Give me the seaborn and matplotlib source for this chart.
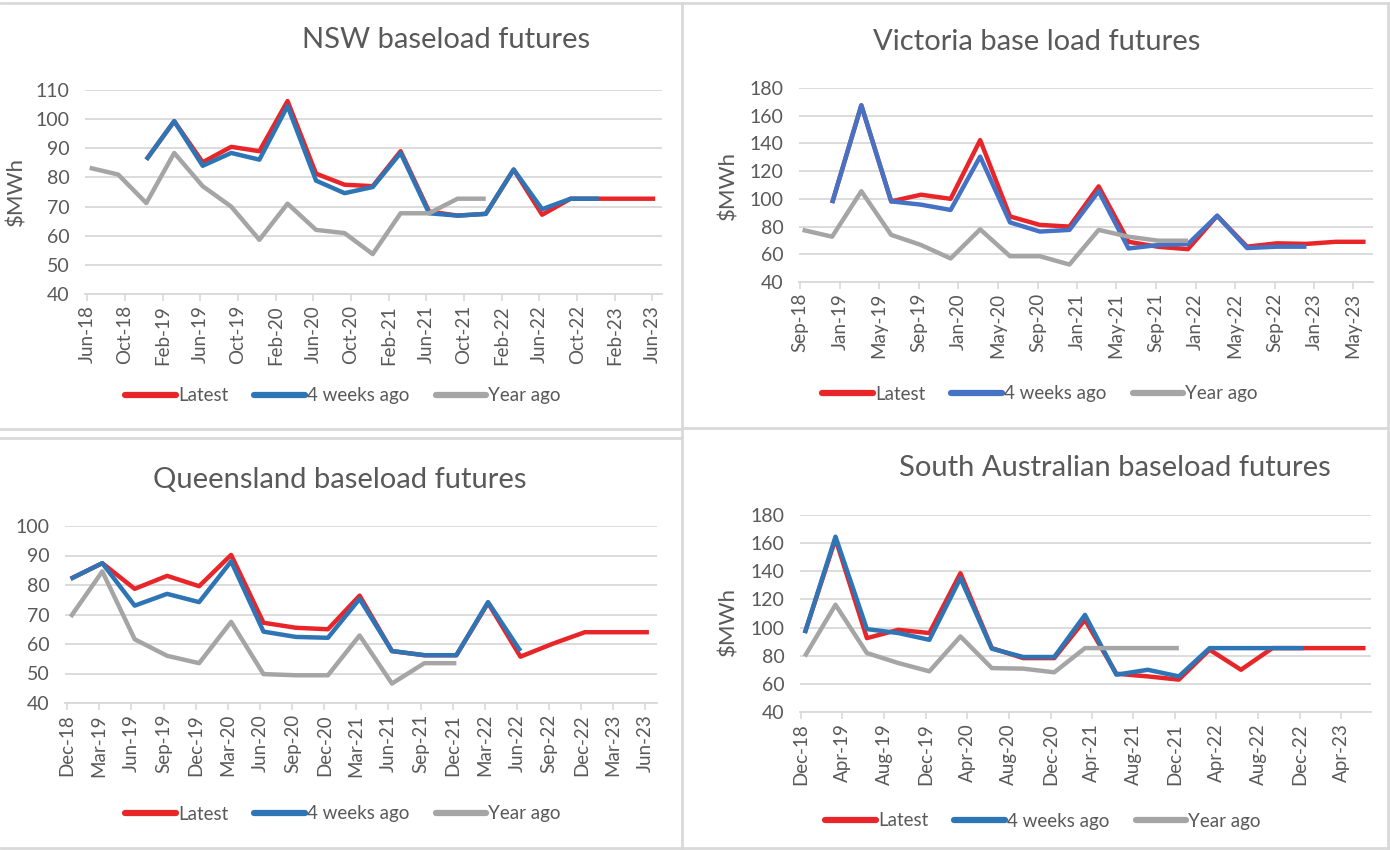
import pandas as pd
import matplotlib
matplotlib.use("Agg")
import matplotlib.pyplot as plt
import matplotlib.dates as mdates
from matplotlib.lines import Line2D
import seaborn as sns

# ---- data (quarterly baseload futures, $/MWh) ----
SERIES = ["Latest", "4 weeks ago", "Year ago"]

nsw_dates = pd.date_range("2018-06-01", "2023-06-01", freq="3MS") + pd.Timedelta(days=9)
nsw_latest = [86.1, 99.3, 85.2, 90.5, 89.0, 106.2, 81.3, 77.5, 77.0, 89.0,
              68.3, 66.9, 67.5, 82.7, 67.2, 72.7, 72.7, 72.7, 72.7]
nsw_4wk = [86.1, 99.3, 84.0, 88.4, 86.1, 104.5, 78.9, 74.6, 76.7, 88.4,
           67.7, 66.9, 67.5, 82.7, 69.1, 72.7, 72.7]
nsw_yago = [83.3, 81.0, 71.2, 88.4, 77.0, 70.0, 58.6, 71.0, 62.0, 60.9,
            53.7, 67.7, 67.7, 72.7, 72.7]

vic_dates = pd.date_range("2018-09-01", "2023-06-01", freq="3MS") + pd.Timedelta(days=7)
vic_latest = [97.0, 167.5, 98.2, 103.0, 100.0, 142.4, 87.3, 81.2, 80.0, 109.0,
              69.0, 65.4, 63.7, 87.8, 65.5, 67.9, 67.5, 69.0, 69.0]
vic_4wk = [97.0, 167.5, 98.2, 95.8, 92.0, 130.5, 83.0, 76.4, 77.6, 105.5,
           64.2, 66.7, 67.4, 87.8, 64.5, 65.5, 65.5]
vic_yago = [77.6, 72.7, 105.5, 74.0, 66.7, 57.0, 78.0, 58.6, 58.6, 52.6,
            77.6, 72.7, 69.8, 69.8]

qld_dates = pd.date_range("2018-12-01", "2023-06-01", freq="3MS") + pd.Timedelta(days=10)
qld_latest = [82.1, 87.4, 78.7, 83.1, 79.6, 90.2, 67.2, 65.5, 65.0, 76.4,
              57.6, 56.2, 56.2, 73.9, 55.7, 60.1, 64.0, 64.0, 64.0]
qld_4wk = [82.1, 87.4, 73.0, 77.0, 74.2, 88.0, 64.2, 62.4, 62.1, 75.3,
           57.6, 56.2, 56.2, 74.2, 57.6]
qld_yago = [69.2, 84.6, 61.6, 56.0, 53.5, 67.5, 49.8, 49.4, 49.4, 62.9,
            46.6, 53.5, 53.5]

sa_dates = pd.date_range("2018-12-01", "2023-06-01", freq="3MS") + pd.Timedelta(days=11)
sa_latest = [96.1, 163.0, 92.5, 98.4, 96.1, 138.6, 85.4, 78.3, 78.3, 105.5,
             67.2, 65.3, 63.0, 84.3, 70.0, 85.4, 85.4, 85.4, 85.4]
sa_4wk = [96.1, 164.6, 98.9, 96.1, 91.3, 135.1, 85.0, 79.1, 79.1, 109.0,
          66.5, 70.0, 65.3, 85.4, 85.4, 85.4, 85.4]
sa_yago = [79.5, 116.2, 81.9, 74.8, 68.9, 93.7, 71.2, 70.8, 68.2, 85.4,
           85.4, 85.4, 85.4]

W, H = 1390, 850
GRID = "#D9D9D9"
TXT = "#595959"


def fx(x):
    return x / W


def fy(y):
    return 1 - y / H


def long_frame(dates, latest, wk4, yago, start_latest, start_4wk):
    rows = []
    for name, vals, start in [("Latest", latest, start_latest),
                              ("4 weeks ago", wk4, start_4wk),
                              ("Year ago", yago, 0)]:
        for i, v in enumerate(vals):
            rows.append({"date": dates[start + i], "value": v, "series": name})
    return pd.DataFrame(rows)


sns.set_theme(style="white")
plt.rcParams["font.family"] = ["Lato", "DejaVu Sans"]

fig = plt.figure(figsize=(13.9, 8.5), dpi=100)

panels = [
    dict(title="NSW baseload futures", tpos=(446, 40),
         df=long_frame(nsw_dates, nsw_latest, nsw_4wk, nsw_yago, 2, 2),
         box=(85, 90, 662, 294), ylim=(40, 110), ystep=10, months=(2, 6, 10),
         xlim=("2018-05-26", "2023-07-02"), ylab=(16, 192), leg=(343, 396), blue="#2E75B6"),
    dict(title="Victoria base load futures", tpos=(1037, 42),
         df=long_frame(vic_dates, vic_latest, vic_4wk, vic_yago, 1, 1),
         box=(799, 88, 1373, 282), ylim=(40, 180), ystep=20, months=(1, 5, 9),
         xlim=("2018-08-28", "2023-07-01"), ylab=(728, 185), leg=(1040, 394), blue="#4472C4"),
    dict(title="Queensland baseload futures", tpos=(340, 480),
         df=long_frame(qld_dates, qld_latest, qld_4wk, qld_yago, 0, 0),
         box=(65, 526, 657, 703), ylim=(40, 100), ystep=10, months=(3, 6, 9, 12),
         xlim=("2018-11-25", "2023-07-04"), ylab=None, leg=(343, 814), blue="#2E75B6"),
    dict(title="South Australian baseload futures", tpos=(1115, 468),
         df=long_frame(sa_dates, sa_latest, sa_4wk, sa_yago, 0, 0),
         box=(800, 515, 1371, 712), ylim=(40, 180), ystep=20, months=(4, 8, 12),
         xlim=("2018-11-28", "2023-06-28"), ylab=(728, 622), leg=(1043, 821), blue="#2E75B6"),
]

for p in panels:
    x0, y0, x1, y1 = p["box"]
    ax = fig.add_axes([fx(x0), fy(y1), (x1 - x0) / W, (y1 - y0) / H])
    palette = {"Latest": "#E8262A", "4 weeks ago": p["blue"], "Year ago": "#A5A5A5"}
    sns.lineplot(data=p["df"], x="date", y="value", hue="series", hue_order=SERIES,
                 palette=palette, linewidth=3.2, estimator=None, legend=False, ax=ax,
                 solid_joinstyle="round", solid_capstyle="butt")
    ax.set_ylim(*p["ylim"])
    ax.set_xlim(pd.Timestamp(p["xlim"][0]), pd.Timestamp(p["xlim"][1]))
    ax.set_yticks(range(p["ylim"][0], p["ylim"][1] + 1, p["ystep"]))
    ax.xaxis.set_major_locator(mdates.MonthLocator(bymonth=p["months"], bymonthday=1))
    ax.xaxis.set_major_formatter(mdates.DateFormatter("%b-%y"))
    ax.grid(axis="y", color=GRID, linewidth=1.3)
    ax.set_axisbelow(True)
    for s in ["top", "right", "left"]:
        ax.spines[s].set_visible(False)
    ax.spines["bottom"].set_color(GRID)
    ax.spines["bottom"].set_linewidth(1.3)
    ax.tick_params(axis="x", rotation=90, labelsize=13.5, colors=TXT, length=5,
                   width=1.2, color=GRID, pad=3, bottom=True)
    ax.tick_params(axis="y", labelsize=14, colors=TXT, length=0, pad=11)
    ax.set_xlabel("")
    ax.set_ylabel("")
    ax.set_facecolor("none")

    fig.text(fx(p["tpos"][0]), fy(p["tpos"][1]), p["title"], ha="center", va="center",
             fontsize=21, color=TXT)
    if p["ylab"]:
        fig.text(fx(p["ylab"][0]), fy(p["ylab"][1]), "$MWh", ha="center", va="center",
                 rotation=90, fontsize=16, color=TXT)
    handles = [Line2D([], [], color=palette[s], linewidth=4.5) for s in SERIES]
    fig.legend(handles, SERIES, loc="center", bbox_to_anchor=(fx(p["leg"][0]), fy(p["leg"][1])),
               ncol=3, frameon=False, fontsize=13.5, handlelength=2.7, handletextpad=0.1,
               columnspacing=1.4, labelcolor=TXT)

# panel frames (screenshot borders)
frame_kw = dict(color=GRID, linewidth=2, transform=fig.transFigure)
fig.add_artist(Line2D([0, 1], [fy(3), fy(3)], **frame_kw))
fig.add_artist(Line2D([fx(682), fx(682)], [0, fy(3)], **frame_kw))
fig.add_artist(Line2D([0, fx(682)], [fy(429), fy(429)], **frame_kw))
fig.add_artist(Line2D([0, fx(682)], [fy(438), fy(438)], **frame_kw))
fig.add_artist(Line2D([fx(682), 1], [fy(428), fy(428)], **frame_kw))
fig.add_artist(Line2D([0, 1], [fy(848), fy(848)], **frame_kw))
fig.add_artist(Line2D([fx(1388), fx(1388)], [0, fy(3)], **frame_kw))

fig.savefig("out.png", dpi=100, facecolor="white")
